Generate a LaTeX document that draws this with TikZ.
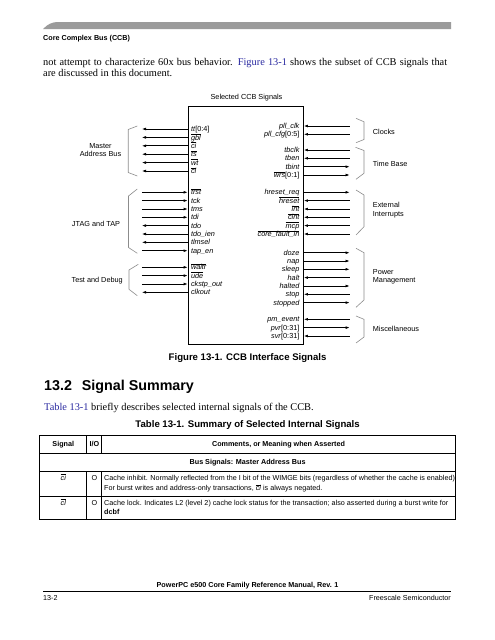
\documentclass[tikz,border=0pt]{standalone}
\usepackage{fontspec}
\setmainfont{Liberation Serif}
\setsansfont{Liberation Sans}
\usetikzlibrary{arrows.meta}
\definecolor{linkblue}{RGB}{40,40,160}
\definecolor{bargray}{RGB}{155,155,155}
\definecolor{brgray}{RGB}{140,140,140}
\newsavebox\ovlbox
\newcommand{\ovl}[1]{\sbox\ovlbox{#1}\rlap{\rule[\dimexpr\fontcharht\font`l+0.6pt\relax]{\wd\ovlbox}{0.45pt}}\usebox\ovlbox}
\newcommand{\sigf}{\fontsize{7.3}{8.3}\selectfont\sffamily\itshape}
\newcommand{\labf}{\fontsize{7.3}{8.3}\selectfont\sffamily}
\newcommand{\tabf}{\fontsize{7.2}{10.5}\selectfont\sffamily}
\newcommand{\tabbf}{\fontsize{7.2}{10.5}\selectfont\sffamily\bfseries}
\newcommand{\capf}{\fontsize{9.6}{11}\selectfont\sffamily\bfseries}
\newcommand{\bodyf}{\fontsize{10.35}{12.4}\selectfont\rmfamily}
\begin{document}
\begin{tikzpicture}[x=1pt,y=-1pt,
  sig/.style={inner sep=0pt,font=\sigf},
  lab/.style={inner sep=0pt,font=\labf,align=left},
  wire/.style={line width=0.75pt},
  atstart/.style={{Latex[length=4.2pt,width=2.8pt]}-},
  atend/.style={-{Latex[length=4.2pt,width=2.8pt]}},
  brace/.style={draw=brgray,line width=0.6pt},
  rule/.style={line width=0.9pt},
  txt/.style={inner sep=0pt}]
\useasboundingbox (0,0) rectangle (495,640);
\fill[white] (0,0) rectangle (495,640);

% page header
\fill[bargray] (43,29) .. controls (48,24) and (52,22) .. (58,22) -- (451,22) -- (451,29) -- cycle;
\node[txt,anchor=base west,font=\fontsize{7.2}{8}\selectfont\sffamily\bfseries] (hdr) at (43,40.3) {Core Complex Bus (CCB)};

% paragraph
\node[txt,anchor=base west,font=\bodyf] (p1) at (43,65.5) {\hbox to 404pt{not attempt to characterize 60x bus behavior. \textcolor{linkblue}{Figure 13-1} shows the subset of CCB signals that}};
\node[txt,anchor=base west,font=\bodyf] (p2) at (43,76.5) {are discussed in this document.};

% diagram
\node[txt,font=\labf] (title) at (246.5,97.7) {Selected CCB Signals};
\node[draw,line width=0.9pt,minimum width=115pt,minimum height=238pt,inner sep=0pt] (core) at (245.8,225.2) {};

\foreach \y/\t/\d [count=\i] in {
  129/{tt\textup{[0:4]}}/atstart,
  137.4/{\ovl{gbl}}/atstart,
  145.8/{\ovl{ci}}/atstart,
  154.2/{\ovl{ts}}/atstart,
  162.6/{\ovl{wt}}/atstart,
  171/{\ovl{cl}}/atstart,
  192.3/{\ovl{trst}}/atend,
  200.6/{tck}/atend,
  209/{tms}/atend,
  217.3/{tdi}/atend,
  225.6/{tdo}/atstart,
  234/{tdo\_ien}/atstart,
  242.3/{tlmsel}/atstart,
  250.7/{tap\_en}/atend,
  267.3/{\ovl{waitr}}/atend,
  275.6/{\ovl{ude}}/atend,
  284/{ckstp\_out}/atend,
  292.3/{clkout}/atstart}{
  \node[sig,anchor=base west] (L\i) at (190.8,\y+2.6) {\t};
  \coordinate (La\i) at (141.8,\y);
  \coordinate (Lb\i) at (core.west |- La\i);
  \draw[wire,\d] (La\i) -- (Lb\i);
}

\foreach \y/\t/\d [count=\i] in {
  126/{pll\_clk}/atstart,
  134.3/{pll\_cfg\textup{[0:5]}}/atstart,
  150/{tbclk}/atstart,
  158.3/{tben}/atstart,
  166.7/{tbint}/atend,
  175/{\ovl{wrs}\textup{[0:1]}}/atend,
  192.3/{hreset\_req}/atend,
  200.6/{\ovl{hreset}}/atstart,
  209/{\ovl{int}}/atstart,
  217.3/{\ovl{cint}}/atstart,
  225.6/{\ovl{mcp}}/atstart,
  234/{\ovl{core\_fault\_in}}/atstart,
  252.7/{doze}/atend,
  261/{nap}/atend,
  269.3/{sleep}/atend,
  277.6/{halt}/atstart,
  286/{halted}/atend,
  294.3/{stop}/atstart,
  302.6/{stopped}/atend,
  319.3/{pm\_event}/atstart,
  327.6/{pvr\textup{[0:31]}}/atend,
  336/{svr\textup{[0:31]}}/atstart}{
  \node[sig,anchor=base east] (R\i) at (299.6,\y+2.6) {\t};
  \coordinate (Ra\i) at (349.8,\y);
  \coordinate (Rb\i) at (core.east |- Ra\i);
  \draw[wire,\d] (Rb\i) -- (Ra\i);
}

% left braces and labels
\draw[brace] (137.3,126) -- (128.2,129.5) -- (128.2,172.5) -- (137.3,176);
\draw[brace] (137.3,189) -- (128.5,196) -- (128.5,247.5) -- (137.3,253.3);
\draw[brace] (138.3,264.3) -- (129,270) -- (129,289.3) -- (137.3,295.7);
\node[lab,align=center] (gMAB) at (100.5,150.2) {Master\\Address Bus};
\node[lab] (gJTAG) at (96,224.3) {JTAG and TAP};
\node[lab] (gTD) at (97.2,280.7) {Test and Debug};

% right braces and labels
\draw[brace] (356,118.3) -- (364,121.8) -- (364,139.5) -- (356,142.7);
\draw[brace] (355.5,147.3) -- (364,150.5) -- (364,173.3) -- (356,179.3);
\draw[brace] (356,190) -- (364,195) -- (364,226.7) -- (356,235);
\draw[brace] (356,248.3) -- (364,252.7) -- (364,300) -- (356,307.3);
\draw[brace] (356,316) -- (364,319.3) -- (364,337) -- (356,343);
\node[lab,anchor=west] (gClk) at (372.7,131.7) {Clocks};
\node[lab,anchor=west] (gTB) at (372.7,164) {Time Base};
\node[lab,anchor=west] (gEI) at (372.7,210) {External\\Interrupts};
\node[lab,anchor=west] (gPM) at (372.7,276.9) {Power\\Management};
\node[lab,anchor=west] (gMisc) at (372.7,329.3) {Miscellaneous};

% figure caption
\node[txt,anchor=base,font=\capf] (figcap) at (247.6,360.5) {Figure 13-1. CCB Interface Signals};

% section heading
\node[txt,anchor=base west,font=\fontsize{14.3}{16}\selectfont\sffamily\bfseries] (secnum) at (44,390.7) {13.2};
\node[txt,anchor=base west,font=\fontsize{14.3}{16}\selectfont\sffamily\bfseries] (sectitle) at (81.7,390.7) {Signal Summary};

\node[txt,anchor=base west,font=\bodyf] (p3) at (44,410) {\textcolor{linkblue}{Table 13-1} briefly describes selected internal signals of the CCB.};

% table
\node[txt,anchor=base,font=\capf] (tabcap) at (247.6,427) {Table 13-1. Summary of Selected Internal Signals};
\draw[rule] (39.3,435.7) rectangle (455.7,519.3);
\draw[rule] (39.3,453.3) -- (455.7,453.3);
\draw[rule] (39.3,471.7) -- (455.7,471.7);
\draw[rule] (39.3,496) -- (455.7,496);
\draw[rule] (86.7,435.7) -- (86.7,453.3);
\draw[rule] (101.7,435.7) -- (101.7,453.3);
\draw[rule] (86.7,471.7) -- (86.7,519.3);
\draw[rule] (101.7,471.7) -- (101.7,519.3);
\node[txt,anchor=base,font=\tabbf] (hS) at (63.3,446.2) {Signal};
\node[txt,anchor=base,font=\tabbf] (hIO) at (94.3,446.2) {I/O};
\node[txt,anchor=base,font=\tabbf] (hC) at (278.5,446.2) {Comments, or Meaning when Asserted};
\node[txt,anchor=base,font=\tabbf] (hB) at (247.6,464.3) {Bus Signals: Master Address Bus};
\node[txt,anchor=base,font=\tabf\itshape] (s1) at (63.3,480) {\ovl{ci}};
\node[txt,anchor=base,font=\tabf] (o1) at (94.3,480) {O};
\node[txt,anchor=base west,font=\tabf] (c1a) at (104,480) {Cache inhibit. Normally reflected from the I bit of the WIMGE bits (regardless of whether the cache is enabled)};
\node[txt,anchor=base west,font=\tabf] (c1b) at (104,490.7) {For burst writes and address-only transactions, \textit{\ovl{ci}} is always negated.};
\node[txt,anchor=base,font=\tabf\itshape] (s2) at (63.3,505) {\ovl{cl}};
\node[txt,anchor=base,font=\tabf] (o2) at (94.3,505) {O};
\node[txt,anchor=base west,font=\tabf] (c2a) at (104,505) {Cache lock. Indicates L2 (level 2) cache lock status for the transaction; also asserted during a burst write for};
\node[txt,anchor=base west,font=\tabbf] (c2b) at (104,514) {dcbf};

% footer
\node[txt,anchor=base,font=\tabbf] (foot) at (247.6,587) {PowerPC e500 Core Family Reference Manual, Rev. 1};
\draw[line width=0.9pt] (43,591) -- (451,591);
\node[txt,anchor=base west,font=\tabf] (pg) at (43,600) {13-2};
\node[txt,anchor=base east,font=\tabf] (fs) at (451,600) {Freescale Semiconductor};
\end{tikzpicture}
\end{document}
